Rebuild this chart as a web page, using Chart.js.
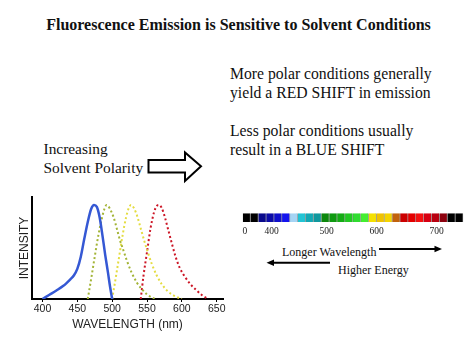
<!DOCTYPE html>
<html>
<head>
<meta charset="utf-8">
<script src="https://cdn.jsdelivr.net/npm/chart.js@4.4.1/dist/chart.umd.min.js"></script>
<style>
  html, body { margin: 0; padding: 0; background: #fff; }
  body { width: 474px; height: 355px; position: relative; overflow: hidden; }
  .t { position: absolute; font-family: "Liberation Serif", "Times New Roman", serif; color: #111; white-space: nowrap; }
  canvas { position: absolute; }
  svg { position: absolute; left: 0; top: 0; }
</style>
</head>
<body>
<div class="t" id="title" style="left:0; width:477px; text-align:center; top:14.5px; font-size:16px; line-height:20px; font-weight:bold;">Fluorescence Emission is Sensitive to Solvent Conditions</div>
<div class="t" style="left:230px; top:64.3px; font-size:15.7px; line-height:19px;">More polar conditions generally<br>yield a RED SHIFT in emission<br><br>Less polar conditions usually<br>result in a BLUE SHIFT</div>
<div class="t" style="left:43.5px; top:138.8px; font-size:15.4px; line-height:19px;">Increasing<br>Solvent Polarity</div>
<div class="t" style="left:282px; top:245.2px; font-size:12px; line-height:14px;">Longer Wavelength</div>
<div class="t" style="left:338px; top:262.7px; font-size:12px; line-height:14px;">Higher Energy</div>

<svg width="474" height="355" viewBox="0 0 474 355">
  <polygon points="148.5,160 185,160 185,152.5 201,166.3 185,181 185,172.5 148.5,172.5" fill="#fff" stroke="#000" stroke-width="2" stroke-linejoin="miter"/>
  <line x1="379" y1="249" x2="436" y2="249" stroke="#000" stroke-width="2"/>
  <polygon points="442,249 434.5,245.8 434.5,252.2" fill="#000"/>
  <line x1="330" y1="262.7" x2="272" y2="262.7" stroke="#000" stroke-width="2"/>
  <polygon points="266.5,262.7 274,259.5 274,265.9" fill="#000"/>
</svg>

<canvas id="emission" width="235" height="150" style="left:0; top:190px;"></canvas>
<canvas id="spectrum" width="244" height="40" style="left:230px; top:205px;"></canvas>

<script>
// ---------- Emission spectra (wavelength nm, relative intensity) ----------
const blueWavelengths  = [400, 410, 420, 430, 440, 445, 450, 455, 460, 465, 470, 474, 478, 482, 486, 490, 494, 497, 500];
const blueIntensity    = [0, 0.045, 0.09, 0.14, 0.21, 0.25, 0.32, 0.45, 0.64, 0.82, 0.96, 1.0, 0.98, 0.87, 0.68, 0.47, 0.28, 0.13, 0];

const oliveWavelengths = [465, 470, 475, 480, 485, 489, 492, 496, 502, 507, 511, 516, 521, 528, 535, 542, 550, 556, 562];
const oliveIntensity   = [0, 0.22, 0.45, 0.67, 0.85, 0.96, 1.0, 0.97, 0.87, 0.74, 0.63, 0.52, 0.41, 0.28, 0.18, 0.11, 0.05, 0.02, 0];

const yellowWavelengths = [500, 505, 510, 515, 520, 524, 527, 531, 536, 541, 546, 551, 557, 564, 571, 580, 590, 600];
const yellowIntensity   = [0, 0.22, 0.45, 0.68, 0.87, 0.97, 1.0, 0.97, 0.88, 0.75, 0.62, 0.5, 0.37, 0.25, 0.16, 0.08, 0.03, 0];

const redWavelengths = [541, 545, 550, 555, 560, 564, 567, 571, 576, 581, 586, 591, 597, 604, 612, 620, 629, 638];
const redIntensity   = [0, 0.25, 0.5, 0.75, 0.92, 0.99, 1.0, 0.97, 0.86, 0.72, 0.58, 0.45, 0.33, 0.24, 0.16, 0.1, 0.04, 0];

const wavelengthTicks = [400, 450, 500, 550, 600, 650];

// ---------- Colour spectrum bar ----------
const spectrumColors = [
  '#000000', '#000000',
  '#0a0a8c', '#0c0ca8', '#1010cc', '#1414ee',
  '#a6d4f4',
  '#22c4d4', '#12a8b4', '#10989e',
  '#0c880c', '#0f9a10', '#14ac14', '#22c822', '#30dc30', '#44ee30',
  '#f4e000', '#f0c200', '#f4d400',
  '#c2620c',
  '#cc0000', '#e40000', '#f41010', '#d80012', '#b80010', '#8c000e',
  '#000000', '#000000'
];
const spectrumTickPositions = [0.29, 3.68, 10.66, 17.0, 24.62];
const spectrumTickLabels    = ['0', '400', '500', '600', '700'];

const SANS  = '"Liberation Sans", Arial, Helvetica, sans-serif';
const SERIF = '"Liberation Serif", "Times New Roman", serif';

const toPoints = (xs, ys) => xs.map((x, i) => ({ x: x, y: ys[i] }));

new Chart(document.getElementById('emission'), {
  type: 'line',
  data: {
    datasets: [
      { data: toPoints(blueWavelengths, blueIntensity), borderColor: '#3558d4', borderWidth: 2.5, cubicInterpolationMode: 'monotone' },
      { data: toPoints(oliveWavelengths, oliveIntensity), borderColor: '#a3b436', borderWidth: 2, borderDash: [2, 2.5], cubicInterpolationMode: 'monotone' },
      { data: toPoints(yellowWavelengths, yellowIntensity), borderColor: '#e4dc40', borderWidth: 2, borderDash: [2, 2.5], cubicInterpolationMode: 'monotone' },
      { data: toPoints(redWavelengths, redIntensity), borderColor: '#cc1626', borderWidth: 2, borderDash: [2, 2.5], cubicInterpolationMode: 'monotone' }
    ]
  },
  options: {
    responsive: false,
    animation: false,
    events: [],
    layout: { padding: { top: 7, right: 12, left: 0, bottom: 0 } },
    plugins: { legend: { display: false }, tooltip: { enabled: false } },
    elements: { point: { radius: 0 }, line: { fill: false } },
    scales: {
      x: {
        type: 'linear', min: 385, max: 659,
        afterFit: s => { s.height = 41; },
        afterBuildTicks: s => { s.ticks = wavelengthTicks.map(v => ({ value: v })); },
        grid: { display: true, drawOnChartArea: false, drawTicks: true, tickLength: 3, color: '#000', lineWidth: 1 },
        border: { display: true, color: '#000', width: 2 },
        ticks: { autoSkip: false, padding: 1, color: '#222', maxRotation: 0, font: { family: SANS, size: 10.5 } },
        title: { display: true, text: 'WAVELENGTH (nm)', color: '#222', font: { family: SANS, size: 12 }, padding: { top: 0, bottom: 8 } }
      },
      y: {
        min: 0, max: 1.085,
        afterFit: s => { s.width = 32; },
        grid: { display: false },
        border: { display: true, color: '#000', width: 2 },
        ticks: { display: false },
        title: { display: true, text: 'INTENSITY', color: '#222', font: { family: SANS, size: 12 }, padding: { top: 17, bottom: 0 } }
      }
    }
  }
});

new Chart(document.getElementById('spectrum'), {
  type: 'bar',
  data: {
    labels: [''],
    datasets: spectrumColors.map(c => ({
      data: [1],
      backgroundColor: c,
      borderColor: 'rgba(0,0,0,0.35)',
      borderWidth: { left: 0, right: 1, top: 0, bottom: 0 },
      borderSkipped: false,
      barPercentage: 1,
      categoryPercentage: 1
    }))
  },
  options: {
    indexAxis: 'y',
    responsive: false,
    animation: false,
    events: [],
    layout: { padding: { top: 8.3, left: 12.7, right: 10.7, bottom: 0 } },
    plugins: { legend: { display: false }, tooltip: { enabled: false } },
    scales: {
      x: {
        type: 'linear', stacked: true, min: 0, max: spectrumColors.length,
        afterFit: s => { s.height = 23; },
        afterBuildTicks: s => { s.ticks = spectrumTickPositions.map(v => ({ value: v })); },
        grid: { display: false, drawTicks: false },
        border: { display: false },
        ticks: { autoSkip: false, maxRotation: 0, padding: 4, color: '#222', font: { family: SERIF, size: 9.5 },
                 callback: (v, i) => spectrumTickLabels[i] }
      },
      y: { stacked: true, display: false }
    }
  }
});
</script>
</body>
</html>
